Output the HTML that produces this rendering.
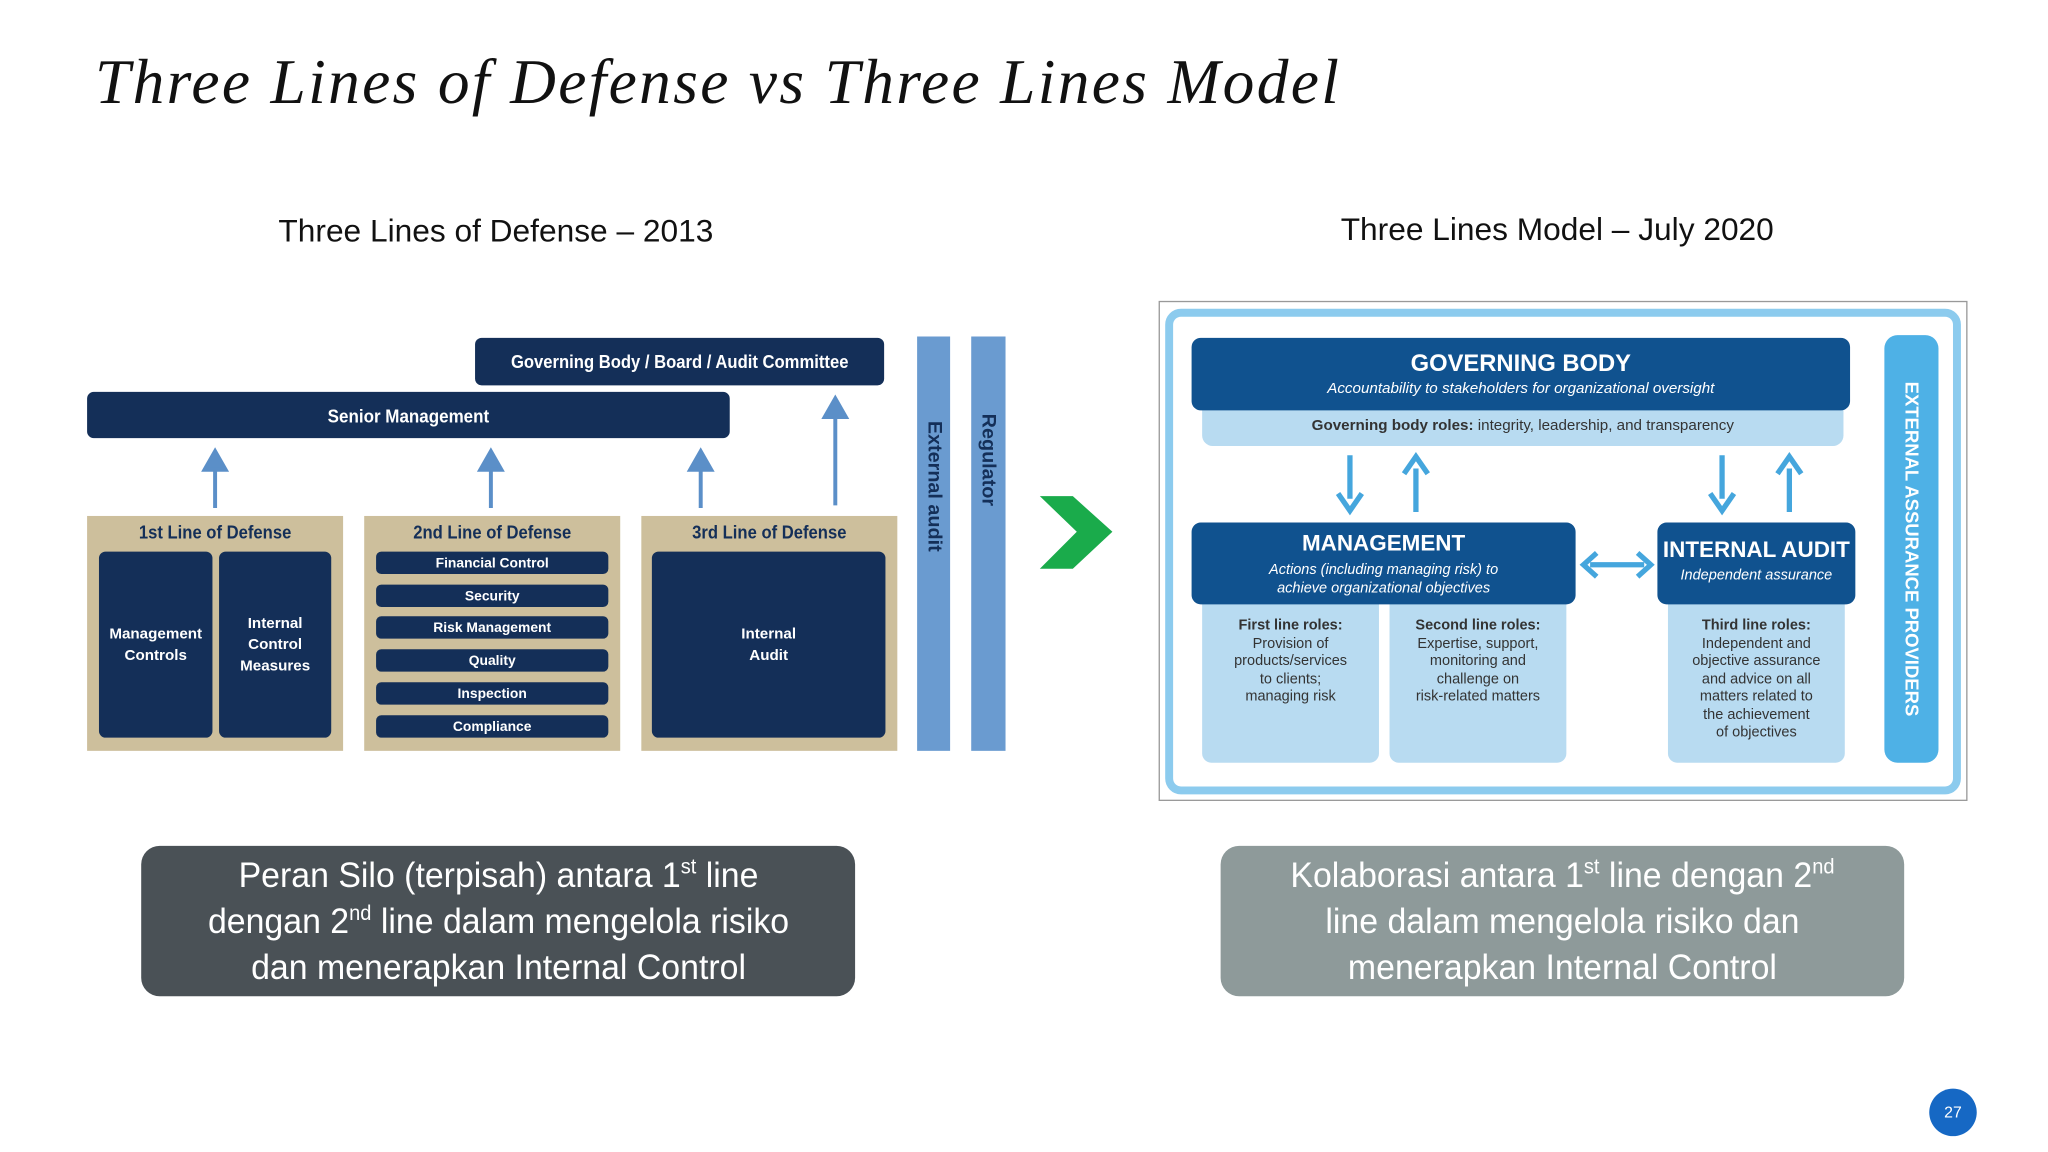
<!DOCTYPE html>
<html><head><meta charset="utf-8"><style>
html,body{margin:0;padding:0;background:#fff;overflow:hidden}
#w{width:2048px;height:1152px;position:relative;overflow:hidden}
#c{position:absolute;left:0;top:0;width:1552px;height:873px;transform:scale(1.31959);transform-origin:0 0;font-family:"Liberation Sans",sans-serif}
.a{position:absolute;box-sizing:border-box}
.nv{background:#142f58;color:#fff;font-weight:bold;display:flex;align-items:center;justify-content:center;text-align:center;border-radius:5px;font-size:12px;line-height:16px}
.tan{background:#cdbf9c}
.th{position:absolute;left:0;right:0;top:4px;text-align:center;color:#142f58;font-weight:bold;font-size:14px;transform:scaleX(0.9)}
.row{left:9px;right:9px;height:17px;font-size:10.5px;border-radius:4px}
.vb{background:#6a9bd0}
.vt{position:absolute;left:50%;top:105px;transform:translateX(-50%) rotate(90deg);transform-origin:center;white-space:nowrap;color:#142f58;font-weight:bold;font-size:15px}
.db{background:#10528f;color:#fff;text-align:center;border-radius:7px}
.lb{background:#b8dbf1;color:#333;text-align:center;font-size:11px;line-height:13.5px}
.tb{display:flex;align-items:center;justify-content:center;text-align:center;color:#fff;font-size:27px;line-height:35px;border-radius:14px}
.tb>div{transform:scaleX(0.95);white-space:nowrap}
sup{font-size:16px;line-height:0}
</style></head><body><div id="w"><div id="c">
<div class="a" style="left:72px;top:35px;font-family:'Liberation Serif',serif;font-style:italic;font-size:48px;letter-spacing:1.8px;color:#111;white-space:nowrap">Three Lines of Defense vs Three Lines Model</div>
<div class="a" style="left:211px;top:162px;font-size:24px;color:#111;white-space:nowrap">Three Lines of Defense – 2013</div>
<div class="a" style="left:1016px;top:161px;font-size:24px;color:#111;white-space:nowrap">Three Lines Model – July 2020</div>

<div class="a nv" style="left:360px;top:256px;width:310px;height:36px;font-size:14px"><span style="transform:scaleX(0.9);white-space:nowrap">Governing Body / Board / Audit Committee</span></div>
<div class="a nv" style="left:66px;top:297px;width:487px;height:35px;font-size:14px"><span style="transform:scaleX(0.92)">Senior Management</span></div>
<svg class="a" style="left:0;top:0" width="800" height="400">
<g stroke="#5b8fc8" stroke-width="3" fill="#5b8fc8">
<line x1="163" y1="385" x2="163" y2="350"/><polygon points="155,356 163,342 171,356"/>
<line x1="372" y1="385" x2="372" y2="350"/><polygon points="364,356 372,342 380,356"/>
<line x1="531" y1="385" x2="531" y2="350"/><polygon points="523,356 531,342 539,356"/>
<line x1="633" y1="383" x2="633" y2="310"/><polygon points="625,316 633,302 641,316"/>
</g></svg>
<div class="a tan" style="left:66px;top:391px;width:194px;height:178px"><div class="th">1st Line of Defense</div>
<div class="a nv" style="left:9px;top:27px;width:86px;height:141px;font-size:11.5px">Management<br>Controls</div>
<div class="a nv" style="left:100px;top:27px;width:85px;height:141px;font-size:11.5px">Internal<br>Control<br>Measures</div></div>
<div class="a tan" style="left:276px;top:391px;width:194px;height:178px"><div class="th">2nd Line of Defense</div>
<div class="a nv row" style="top:27px">Financial Control</div>
<div class="a nv row" style="top:52px">Security</div>
<div class="a nv row" style="top:76px">Risk Management</div>
<div class="a nv row" style="top:101px">Quality</div>
<div class="a nv row" style="top:126px">Inspection</div>
<div class="a nv row" style="top:151px">Compliance</div></div>
<div class="a tan" style="left:486px;top:391px;width:194px;height:178px"><div class="th">3rd Line of Defense</div>
<div class="a nv" style="left:8px;top:27px;width:177px;height:141px;font-size:11.5px">Internal<br>Audit</div></div>
<div class="a vb" style="left:695px;top:255px;width:25px;height:314px"><div class="vt">External audit</div></div>
<div class="a vb" style="left:736px;top:255px;width:26px;height:314px"><div class="vt" style="top:85px">Regulator</div></div>
<svg class="a" style="left:786px;top:374px" width="60" height="60"><polygon points="2,2 27,2 57,29 27,57 2,57 30,29" fill="#1aab4b"/></svg>

<div class="a" style="left:878px;top:228px;width:613px;height:379px;border:1px solid #999;background:#fff"></div>
<div class="a" style="left:883px;top:234px;width:603px;height:368px;border:6px solid #8ccbee;border-radius:12px"></div>
<div class="a lb" style="left:911px;top:300px;width:486px;height:38px;border-radius:0 0 8px 8px;padding-top:17px;font-size:11.5px"><b>Governing body roles:</b> integrity, leadership, and transparency</div>
<div class="a db" style="left:903px;top:256px;width:499px;height:55px"><div style="font-weight:bold;font-size:18px;margin-top:9px">GOVERNING BODY</div><div style="font-style:italic;font-size:11.5px;margin-top:3px">Accountability to stakeholders for organizational oversight</div></div>
<svg class="a" style="left:0;top:0" width="1552" height="873">
<g stroke="#45a6dd" stroke-width="4" fill="#45a6dd">
<line x1="1023" y1="345" x2="1023" y2="378"/><polyline points="1014,374 1023,387 1032,374" fill="none"/>
<line x1="1073" y1="355" x2="1073" y2="388"/><polyline points="1064,359 1073,346 1082,359" fill="none"/>
<line x1="1305" y1="345" x2="1305" y2="378"/><polyline points="1296,374 1305,387 1314,374" fill="none"/>
<line x1="1356" y1="355" x2="1356" y2="388"/><polyline points="1347,359 1356,346 1365,359" fill="none"/>
<line x1="1205" y1="428" x2="1246" y2="428"/><polyline points="1210,419 1200,428 1210,437" fill="none"/><polyline points="1241,419 1251,428 1241,437" fill="none"/>
</g></svg>
<div class="a lb" style="left:911px;top:450px;width:134px;height:128px;border-radius:0 0 7px 7px;padding-top:18px"><b>First line roles:</b><br>Provision of<br>products/services<br>to clients;<br>managing risk</div>
<div class="a lb" style="left:1053px;top:450px;width:134px;height:128px;border-radius:0 0 7px 7px;padding-top:18px"><b>Second line roles:</b><br>Expertise, support,<br>monitoring and<br>challenge on<br>risk-related matters</div>
<div class="a lb" style="left:1264px;top:450px;width:134px;height:128px;border-radius:0 0 7px 7px;padding-top:18px"><b>Third line roles:</b><br>Independent and<br>objective assurance<br>and advice on all<br>matters related to<br>the achievement<br>of objectives</div>
<div class="a db" style="left:903px;top:396px;width:291px;height:62px"><div style="font-weight:bold;font-size:17px;margin-top:6px">MANAGEMENT</div><div style="font-style:italic;font-size:11px;line-height:14px;margin-top:3px">Actions (including managing risk) to<br>achieve organizational objectives</div></div>
<div class="a db" style="left:1256px;top:396px;width:150px;height:62px"><div style="font-weight:bold;font-size:17px;margin-top:11px">INTERNAL AUDIT</div><div style="font-style:italic;font-size:11px;margin-top:3px">Independent assurance</div></div>
<div class="a" style="left:1428px;top:254px;width:41px;height:324px;background:#4eb1e6;border-radius:10px"><div style="position:absolute;left:50%;top:50%;transform:translate(-50%,-50%) rotate(90deg);white-space:nowrap;color:#fff;font-weight:bold;font-size:14px">EXTERNAL ASSURANCE PROVIDERS</div></div>

<div class="a tb" style="left:107px;top:641px;width:541px;height:114px;background:#4a5156">
<div>Peran Silo (terpisah) antara 1<sup>st</sup> line<br>dengan 2<sup>nd</sup> line dalam mengelola risiko<br>dan menerapkan Internal Control</div></div>
<div class="a tb" style="left:925px;top:641px;width:518px;height:114px;background:#8e9a9a">
<div>Kolaborasi antara 1<sup>st</sup> line dengan 2<sup>nd</sup><br>line dalam mengelola risiko dan<br>menerapkan Internal Control</div></div>
<div class="a" style="left:1462px;top:825px;width:36px;height:36px;border-radius:50%;background:#1668c4;color:#fff;font-size:12px;display:flex;align-items:center;justify-content:center">27</div>
</div></div></body></html>
